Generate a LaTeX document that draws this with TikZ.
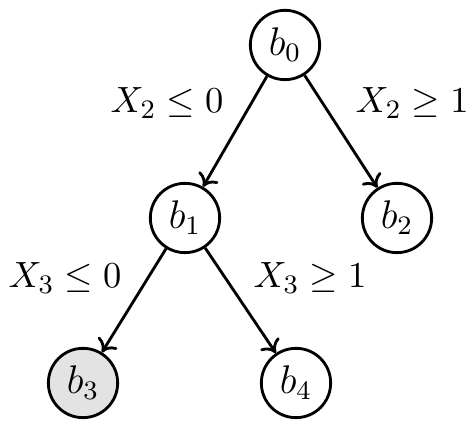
\documentclass[tikz,border=0pt]{standalone}
\usetikzlibrary{arrows.meta}
\begin{document}
\begin{tikzpicture}[x=0.3pt,y=-0.3pt,
  treenode/.style={circle,draw,line width=0.85pt,minimum size=20.8pt,inner sep=0pt,font=\fontsize{11.5}{13}\selectfont},
  lbl/.style={font=\fontsize{11}{13}\selectfont,inner sep=0pt},
  conn/.style={-{To[length=3.6pt,width=6.8pt]},line width=0.85pt}]
\useasboundingbox (0,0) rectangle (474,443);
\node[treenode] (b0) at (285,45) {$b_0$};
\node[treenode] (b1) at (185,218) {$b_1$};
\node[treenode] (b2) at (397,218) {$b_2$};
\node[treenode,fill=black!11] (b3) at (83,383) {$b_3$};
\node[treenode] (b4) at (296,383) {$b_4$};
\draw[conn] (b0) -- (b1);
\draw[conn] (b0) -- (b2);
\draw[conn] (b1) -- (b3);
\draw[conn] (b1) -- (b4);
\node[lbl] (l1) at (167,103) {$X_2 \leq 0$};
\node[lbl] (l2) at (412,103) {$X_2 \geq 1$};
\node[lbl] (l3) at (65,278) {$X_3 \leq 0$};
\node[lbl] (l4) at (310,278) {$X_3 \geq 1$};
\end{tikzpicture}
\end{document}
